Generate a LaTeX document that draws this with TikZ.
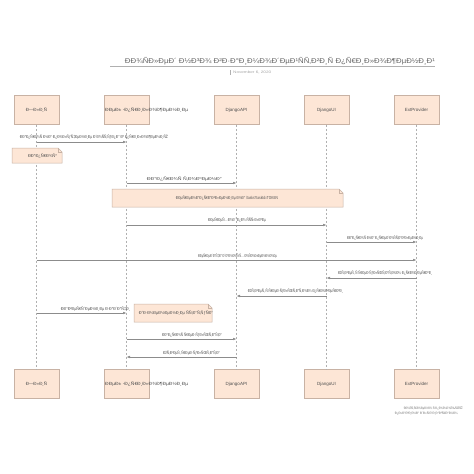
\documentclass[tikz,border=0pt]{standalone}
\usepackage{fontspec}
\setmainfont{Liberation Sans}
\usetikzlibrary{arrows.meta}
\definecolor{boxfill}{HTML}{FDE6D6}
\definecolor{boxdraw}{HTML}{C8B2A4}
\definecolor{txt}{HTML}{505050}
\definecolor{lgray}{HTML}{8C8C8C}
\definecolor{llife}{HTML}{B0B0B0}
\newcommand{\fw}[2]{\resizebox{#1pt}{\height}{#2}}
\begin{document}
\begin{tikzpicture}[x=1pt,y=-1pt,
  part/.style={draw=boxdraw,fill=boxfill,minimum width=45pt,minimum height=29pt,inner sep=0pt,line width=0.5pt,font=\fontsize{4.5}{5}\selectfont,text=txt},
  lbl/.style={font=\fontsize{4.3}{5}\selectfont,text=txt,inner sep=0pt},
  msg/.style={draw=lgray,line width=0.5pt,-{Latex[length=3.5pt,width=2.6pt]}},
  life/.style={draw=llife,dash pattern=on 2pt off 2pt,line width=0.45pt},
  notebox/.style={draw=none,fill=none,inner sep=0pt}]
\useasboundingbox (0,0) rectangle (474,474);
\fill[white] (0,0) rectangle (474,474);

% title
\draw[draw=llife,line width=0.4pt] (110,66) -- (435,66);
\node[font=\fontsize{7}{8}\selectfont,text=black!60,inner sep=0pt] (title) at (280,61.5) {\fw{310}{ÐÐ¾ÑÐ»ÐµÐ´ Ð½Ð³Ð¾ Ð²Ð·Ð°Ð¸Ð¼Ð¾Ð´ÐµÐ¹ÑÑ‚Ð²Ð¸Ñ Ð¿Ñ€Ð¸Ð»Ð¾Ð¶ÐµÐ½Ð¸Ð¹}};
\draw[draw=llife,line width=0.3pt] (230,70) -- (230,75);
\node[font=\fontsize{3.5}{4}\selectfont,text=black!35,inner sep=0pt,anchor=west] (date) at (233,72.5) {\fw{38}{November 6, 2020}};

% participants top
\node[part] (p1) at (36.5,110) {Ð—Ð»Ð¸Ñ};
\node[part] (p2) at (126.5,110) {};
\node[lbl,anchor=west,font=\fontsize{4.5}{5}\selectfont] (p2t) at (105,110) {\fw{83}{ÐÐµÐ± -Ð¿Ñ€Ð¸Ð»Ð¾Ð¶ÐµÐ½Ð¸Ðµ}};
\node[part] (p3) at (236.5,110) {DjangoAPI};
\node[part] (p4) at (326.5,110) {DjangoUI};
\node[part] (p5) at (416.5,110) {ExtProvider};

% participants bottom
\node[part] (q1) at (36.5,384) {Ð—Ð»Ð¸Ñ};
\node[part] (q2) at (126.5,384) {};
\node[lbl,anchor=west,font=\fontsize{4.5}{5}\selectfont] (q2t) at (105,384) {\fw{83}{ÐÐµÐ± -Ð¿Ñ€Ð¸Ð»Ð¾Ð¶ÐµÐ½Ð¸Ðµ}};
\node[part] (q3) at (236.5,384) {DjangoAPI};
\node[part] (q4) at (326.5,384) {DjangoUI};
\node[part] (q5) at (416.5,384) {ExtProvider};

% lifelines
\foreach \i in {1,...,5}{\draw[life] (p\i.south) -- (q\i.north);}

% message coordinates
\coordinate (a1) at (36.5,142);  \coordinate (b1) at (126.5,142);
\coordinate (a2) at (126.5,183); \coordinate (b2) at (236.5,183);
\coordinate (a3) at (126.5,225); \coordinate (b3) at (326.5,225);
\coordinate (a4) at (326.5,242); \coordinate (b4) at (416.5,242);
\coordinate (a5) at (36.5,260);  \coordinate (b5) at (416.5,260);
\coordinate (a6) at (416.5,278); \coordinate (b6) at (326.5,278);
\coordinate (a7) at (326.5,296); \coordinate (b7) at (236.5,296);
\coordinate (a8) at (36.5,313);  \coordinate (b8) at (126.5,313);
\coordinate (a9) at (126.5,339); \coordinate (b9) at (236.5,339);
\coordinate (a10) at (236.5,357); \coordinate (b10) at (126.5,357);

\foreach \i in {1,...,10}{\draw[msg] (a\i) -- (b\i);}

% message labels
\node[lbl] (l1) at (94,137.5) {\fw{148}{ÐÐ°Ð¿Ñ€Ð¾Ñ Ð½Ð° Ð¿Ð¾Ð»ÑƒÑ‡ÐµÐ½Ð¸Ðµ Ð´Ð¾ÑÑ‚ÑƒÐ¿Ð° Ðº Ð¿Ñ€Ð¸Ð»Ð¾Ð¶ÐµÐ½Ð¸ÑŽ}};
\node[lbl] (l2) at (184.5,179) {\fw{75}{ÐÐ°Ð¿Ñ€Ð¾Ñ Ñ‚Ð¾ÐºÐµÐ½Ð°}};
\node[lbl] (l3) at (237,220.5) {\fw{58}{ÐÐµÑ€ÐµÑ…Ð¾Ð´ Ð¿Ð¾ ÑÑÑ‹Ð»ÐºÐµ}};
\node[lbl] (l4) at (385,238.5) {\fw{76}{ÐÐ°Ð¿Ñ€Ð¾Ñ Ð½Ð° Ð¿Ñ€ÐµÐ´Ð¾ÑÑ‚Ð°Ð²Ð»ÐµÐ½Ð¸Ðµ}};
\node[lbl] (l5) at (237.5,256) {\fw{79}{ÐÐµÑ€ÐµÐ´Ð°Ñ‡Ð° Ð´Ð°Ð½Ð½Ñ‹Ñ… Ð¾ÑÐ¾Ð±ÐµÐ½Ð½Ð¾Ðµ}};
\node[lbl] (l6) at (385,273.5) {\fw{94}{ÐžÑ‚Ð²ÐµÑ‚ Ñ Ñ€ÐµÐ·ÑƒÐ»ÑŒÑ‚Ð°Ñ‚Ð¾Ð¼ Ð¿Ñ€Ð¾Ð²ÐµÑ€ÐºÐ¸}};
\node[lbl] (l7) at (295.5,291.5) {\fw{95}{ÐžÑ‚Ð²ÐµÑ‚ Ñ Ñ€ÐµÐ·ÑƒÐ»ÑŒÑ‚Ð°Ñ‚Ð¾Ð¼ Ð¿Ñ€Ð¾Ð²ÐµÑ€ÐºÐ¸}};
\node[lbl] (l8) at (95.5,309) {\fw{69}{ÐÐ°Ð²ÐµÑ€ÑˆÐµÐ½Ð¸Ðµ Ð·Ð°Ð´Ð°Ñ‡Ð¸}};
\node[lbl] (l9) at (192,335) {\fw{60}{ÐÐ°Ð¿Ñ€Ð¾Ñ Ñ€ÐµÐ·ÑƒÐ»ÑŒÑ‚Ð°Ñ‚Ð°}};
\node[lbl] (l10) at (191.5,353) {\fw{57}{ÐžÑ‚Ð²ÐµÑ‚ Ñ€ÐµÐ·ÑƒÐ»ÑŒÑ‚Ð°Ñ‚Ð°}};

% notes
\newcommand{\notedraw}[5]{% name, x1, y1, x2, y2
  \filldraw[fill=boxfill,draw=boxdraw,line width=0.5pt] (#2,#3) -- (#4-4,#3) -- (#4,#3+4) -- (#4,#5) -- (#2,#5) -- cycle;
  \draw[draw=boxdraw,line width=0.5pt] (#4-4,#3) -- (#4-4,#3+4) -- (#4,#3+4);
  \coordinate (#1) at ({(#2+#4)/2},{(#3+#5)/2});}
\notedraw{n1}{12}{148}{62}{163}
\node[lbl] (n1t) at (42.5,155.5) {\fw{29}{ÐÐ°Ð¿Ñ€Ð¾Ñ*}};
\notedraw{n2}{112}{189}{343}{207}
\node[lbl] (n2t) at (227,198) {\fw{102}{ÐÐµÑ€ÐµÐ½Ð°Ð¿Ñ€Ð°Ð²Ð»ÐµÐ½Ð¸Ðµ Ð½Ð° /tasks?taskId=TOKEN}};
\notedraw{n3}{134}{304}{212}{322}
\node[lbl] (n3t) at (176,313) {\fw{74}{Ð˜Ð·Ð¼ÐµÐ½ÐµÐ½Ð¸Ðµ ÑÑ‚Ð°Ñ‚ÑƒÑÐ°}};

% footer
\node[font=\fontsize{3.3}{4}\selectfont,text=black!55,inner sep=0pt,anchor=east] (f1) at (463,408.5) {\fw{59}{ÐÐ¾ÑÑ‚Ñ€Ð¾ÐµÐ½Ð¾ Ñ Ð¿Ð¾Ð¼Ð¾Ñ‰ÑŒÑŽ}};
\node[font=\fontsize{3.3}{4}\selectfont,text=black!55,inner sep=0pt,anchor=east] (f2) at (458,413.5) {\fw{63}{Ð¿Ð»Ð°Ð³Ð¸Ð½Ð° Ð´Ð»Ñ Ð´Ð¸Ð°Ð³Ñ€Ð°Ð¼Ð¼}};
\end{tikzpicture}
\end{document}
